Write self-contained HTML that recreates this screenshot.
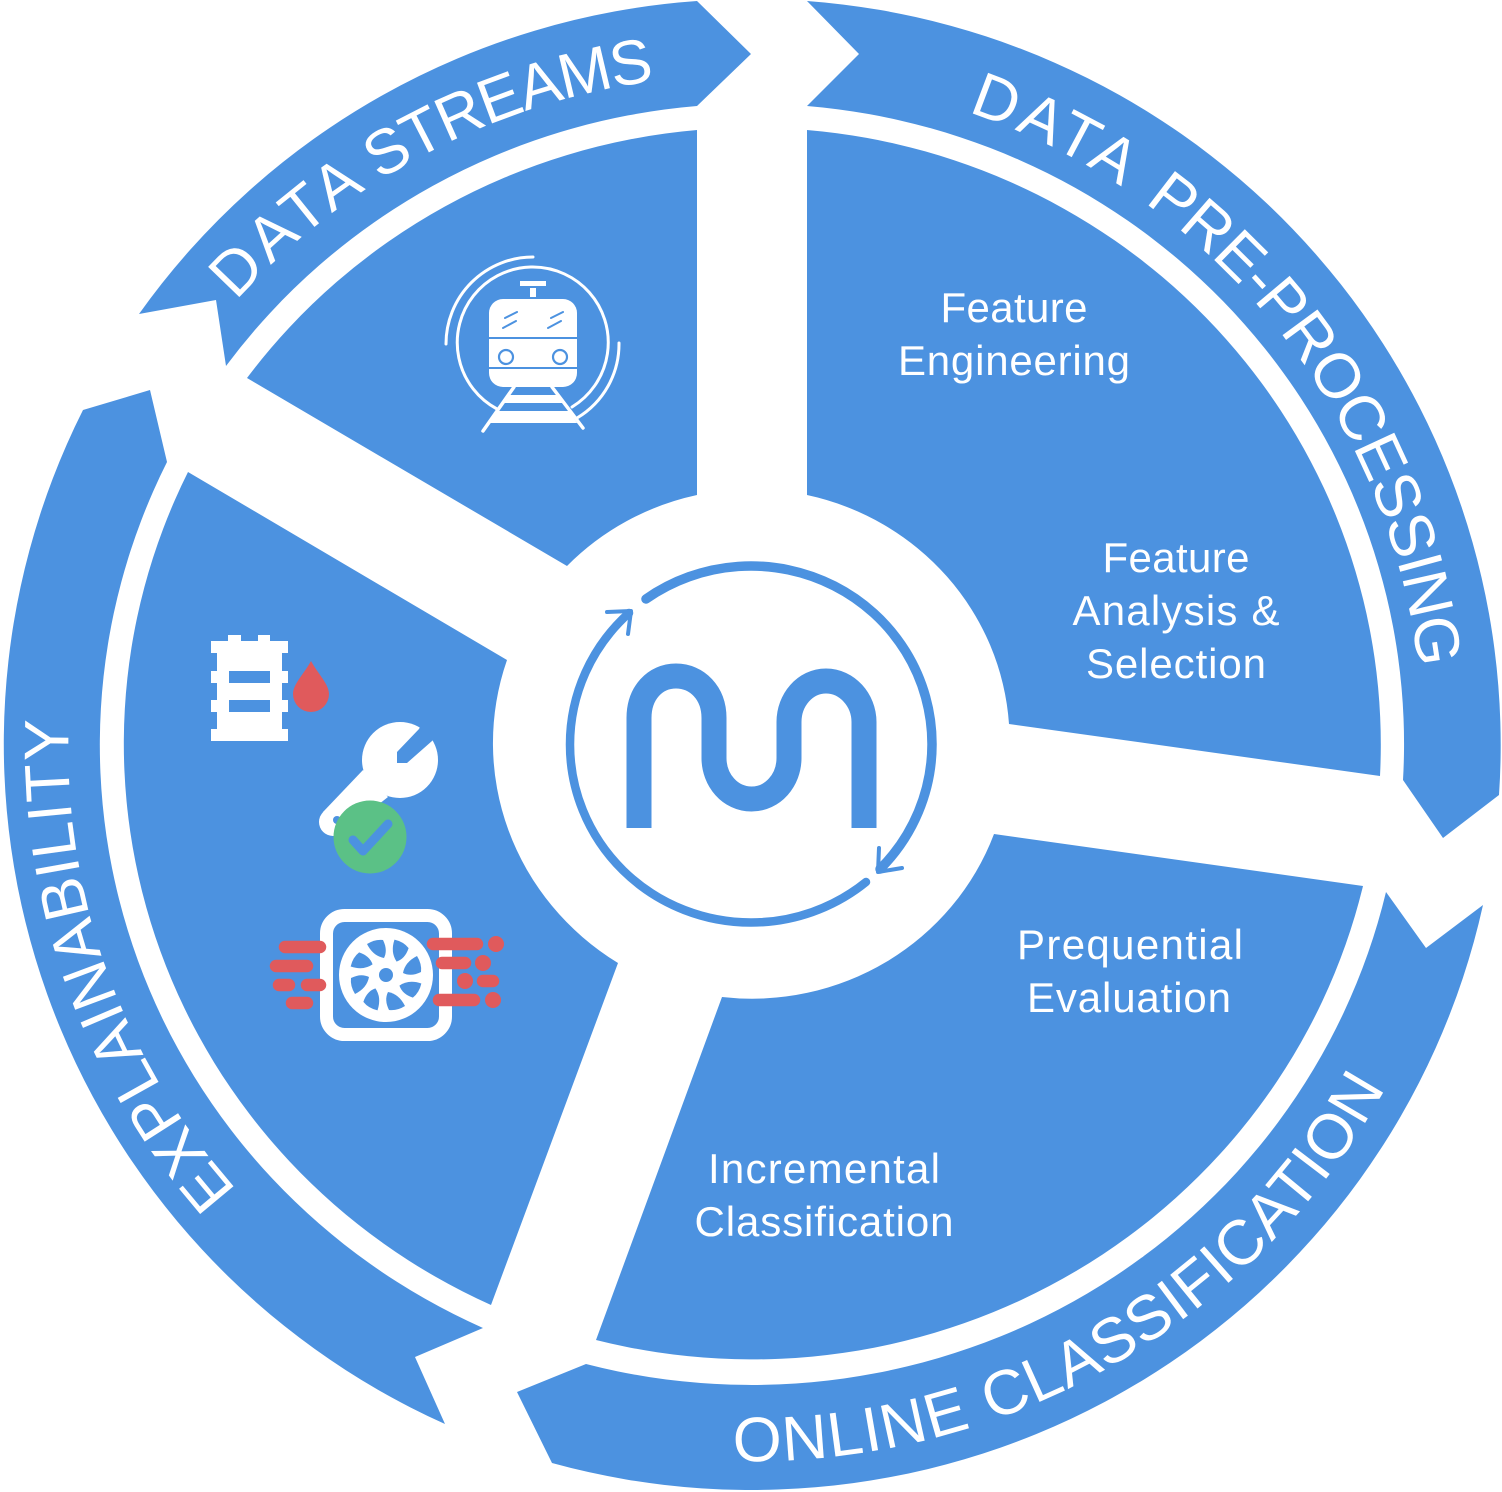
<!DOCTYPE html>
<html><head><meta charset="utf-8"><style>
html,body{margin:0;padding:0;background:#fff}
svg{display:block}
text{font-family:"Liberation Sans",sans-serif;fill:#fff}
.l{font-size:42px;text-anchor:middle}
.b{font-size:63px}
</style></head><body>
<svg width="1502" height="1492" viewBox="0 0 1502 1492" xmlns="http://www.w3.org/2000/svg">
<defs>
<path id="p1" d="M236 301 A686 671 0 0 1 701 76"/>
<path id="p2" d="M968 112 A672 668 0 0 1 1423 745"/>
<path id="p3" d="M733 1461 A722 716 0 0 0 1430 990"/>
<path id="p4" d="M237 1190 A682 672 0 0 1 70 700"/>
</defs>
<g fill="#4C92E0">
<!-- sectors -->
<path d="M697 130 A628 617 0 0 0 247 378 L567 566 A258 252 0 0 1 697 495 Z"/>
<path d="M807 130 A628 617 0 0 1 1380 776 L1009 724 A258 252 0 0 0 807 495 Z"/>
<path d="M1363 886 A628 617 0 0 1 596 1340 L722 997 A258 252 0 0 0 994 834 Z"/>
<path d="M491 1305 A628 617 0 0 1 188 472 L507 660 A268 260 0 0 0 618 963 Z"/>
<!-- bands -->
<path d="M139 314 A749 746 0 0 1 697 1 L751 54 L697 106 A652 640 0 0 0 226 366 L216 300 Z"/>
<path d="M807 1 A749 746 0 0 1 1499 795 L1443 838 L1403 780 A652 640 0 0 0 807 106 L859 54 Z"/>
<path d="M1483 905 A749 746 0 0 1 552 1463 L517 1392 L586 1364 A652 640 0 0 0 1386 892 L1426 948 Z"/>
<path d="M445 1424 A749 746 0 0 1 83 410 L150 390 L167 462 A652 640 0 0 0 483 1328 L415 1357 Z"/>
</g>
<!-- band labels -->
<text class="b"><textPath href="#p1" textLength="172">DATA</textPath></text>
<text class="b"><textPath href="#p1" startOffset="188" textLength="295">STREAMS</textPath></text>
<text class="b"><textPath href="#p2" textLength="171">DATA</textPath></text>
<text class="b"><textPath href="#p2" startOffset="199" textLength="556">PRE-PROCESSING</textPath></text>
<text class="b"><textPath href="#p3" textLength="242">ONLINE</textPath></text>
<text class="b"><textPath href="#p3" startOffset="263" textLength="527">CLASSIFICATION</textPath></text>
<text class="b"><textPath href="#p4" textLength="512">EXPLAINABILITY</textPath></text>
<!-- sector labels -->
<text class="l" x="1014" y="322" textLength="147">Feature</text>
<text class="l" x="1014" y="375" textLength="232">Engineering</text>
<text class="l" x="1176" y="572" textLength="147">Feature</text>
<text class="l" x="1176" y="625" textLength="207">Analysis &amp;</text>
<text class="l" x="1176" y="678" textLength="180">Selection</text>
<text class="l" x="1130" y="959" textLength="226">Prequential</text>
<text class="l" x="1129" y="1012" textLength="204">Evaluation</text>
<text class="l" x="824" y="1183" textLength="232">Incremental</text>
<text class="l" x="824" y="1236" textLength="259">Classification</text>
<!-- train -->
<g fill="none" stroke="#fff" stroke-linecap="round">
<path d="M497 409 A75.5 75.5 0 1 1 572 407" stroke-width="3"/>
<path d="M446 344 A87 87 0 0 1 533 257" stroke-width="3"/>
<path d="M619 343 A86 86 0 0 1 577 418" stroke-width="3"/>
<path d="M514 387 L483 431 M552 387 L583 428" stroke-width="3.5"/>
</g>
<g fill="#fff">
<rect x="520" y="281" width="26" height="5"/>
<rect x="530" y="288" width="6" height="9"/>
<rect x="489" y="299" width="88" height="88" rx="14"/>
<path d="M508 395 H558 L563 403 H503 Z"/>
<path d="M497 411 H569 L577 423 H489 Z"/>
</g>
<g stroke="#4C92E0" fill="none" stroke-linecap="round">
<path d="M489 338 H577 M489 368 H577" stroke-width="2"/>
<path d="M505 318 L517 312 M503 328 L516 321 M551 318 L563 312 M548 328 L561 321" stroke-width="2"/>
<circle cx="506" cy="357" r="7" stroke-width="2.2"/>
<circle cx="560" cy="357" r="7" stroke-width="2.2"/>
</g>
<!-- barrel -->
<g fill="#fff">
<rect x="217" y="641" width="65" height="100"/>
<rect x="211" y="641" width="77" height="12"/>
<rect x="211" y="671" width="77" height="12"/>
<rect x="211" y="700" width="77" height="12"/>
<rect x="211" y="729" width="77" height="12"/>
<rect x="228" y="635" width="13" height="6"/>
<rect x="258" y="635" width="12" height="6"/>
</g>
<rect x="229" y="671" width="41" height="12" fill="#4C92E0"/>
<rect x="229" y="700" width="41" height="12" fill="#4C92E0"/>
<path d="M311 661 C304 674 293 684 293 694 A18 18 0 0 0 329 694 C329 684 318 674 311 661 Z" fill="#E05A5C"/>
<!-- wrench -->
<g fill="#fff">
<circle cx="400" cy="760" r="38"/>
<path d="M363 770 L323 812 L343 832 L388 797 Z"/>
<circle cx="333" cy="822" r="14"/>
</g>
<path d="M419 729 L397 752 L397 763 L407 763 L432 741 L446 720 L430 708 Z" fill="#4C92E0"/>
<circle cx="337" cy="820" r="4" fill="#4C92E0"/>
<circle cx="370" cy="837" r="36.5" fill="#5BC186"/>
<path d="M353 840 L363 851 L388 824" fill="none" stroke="#4C92E0" stroke-width="9" stroke-linecap="round" stroke-linejoin="round"/>
<!-- fan -->
<rect x="326.5" y="915.5" width="119" height="119" rx="18" fill="#4C92E0" stroke="#fff" stroke-width="13"/>
<circle cx="386" cy="975" r="47" fill="#fff"/>
<g fill="#4C92E0" transform="translate(386 975)">
<circle r="7"/>
<path d="M-19 -31 Q-11 -36 -3 -35 Q2 -25 -2 -17 Q-13 -19 -19 -31 Z"/>
<path transform="rotate(45)" d="M-19 -31 Q-11 -36 -3 -35 Q2 -25 -2 -17 Q-13 -19 -19 -31 Z"/>
<path transform="rotate(90)" d="M-19 -31 Q-11 -36 -3 -35 Q2 -25 -2 -17 Q-13 -19 -19 -31 Z"/>
<path transform="rotate(135)" d="M-19 -31 Q-11 -36 -3 -35 Q2 -25 -2 -17 Q-13 -19 -19 -31 Z"/>
<path transform="rotate(180)" d="M-19 -31 Q-11 -36 -3 -35 Q2 -25 -2 -17 Q-13 -19 -19 -31 Z"/>
<path transform="rotate(225)" d="M-19 -31 Q-11 -36 -3 -35 Q2 -25 -2 -17 Q-13 -19 -19 -31 Z"/>
<path transform="rotate(270)" d="M-19 -31 Q-11 -36 -3 -35 Q2 -25 -2 -17 Q-13 -19 -19 -31 Z"/>
<path transform="rotate(315)" d="M-19 -31 Q-11 -36 -3 -35 Q2 -25 -2 -17 Q-13 -19 -19 -31 Z"/>
</g>
<g stroke="#E05A5C" stroke-width="12.5" stroke-linecap="round" fill="none">
<path d="M285 947 H320 M276 966 H307 M279 985 H289 M307 985 H320 M292 1003 H307"/>
<path d="M433 944 H477 M442 963 H465 M483 981 H493 M439 1000 H474"/>
</g>
<g fill="#E05A5C">
<circle cx="496" cy="944" r="8"/>
<circle cx="483" cy="963" r="8"/>
<circle cx="465" cy="981" r="8"/>
<circle cx="493" cy="1000" r="8"/>
</g>
<!-- centre logo -->
<g fill="none" stroke="#4C92E0" stroke-linecap="round" stroke-linejoin="round">
<path d="M646 599 A181 178 0 0 1 932 744.5 A181 178 0 0 1 880 869" stroke-width="9.5"/>
<path d="M866 882 A181 178 0 0 1 751 922.5 A181 178 0 0 1 570 744.5 A181 178 0 0 1 629 613" stroke-width="8.5"/>
<path d="M879 848 L878 872 L902 868" stroke-width="4"/>
<path d="M607 612 L631 611 L628 634" stroke-width="4"/>
<path stroke-width="25" stroke-linecap="butt" stroke-linejoin="miter" d="M639 828 V718 C639 693 655 676 676 676 C697 676 714 693 714 718 V758 C714 780 730 799 751.5 799 C773 799 789 780 789 758 V722 C789 700 805 681 826 681 C847 681 864 700 864 722 V828"/>
</g>
</svg>
</body></html>
